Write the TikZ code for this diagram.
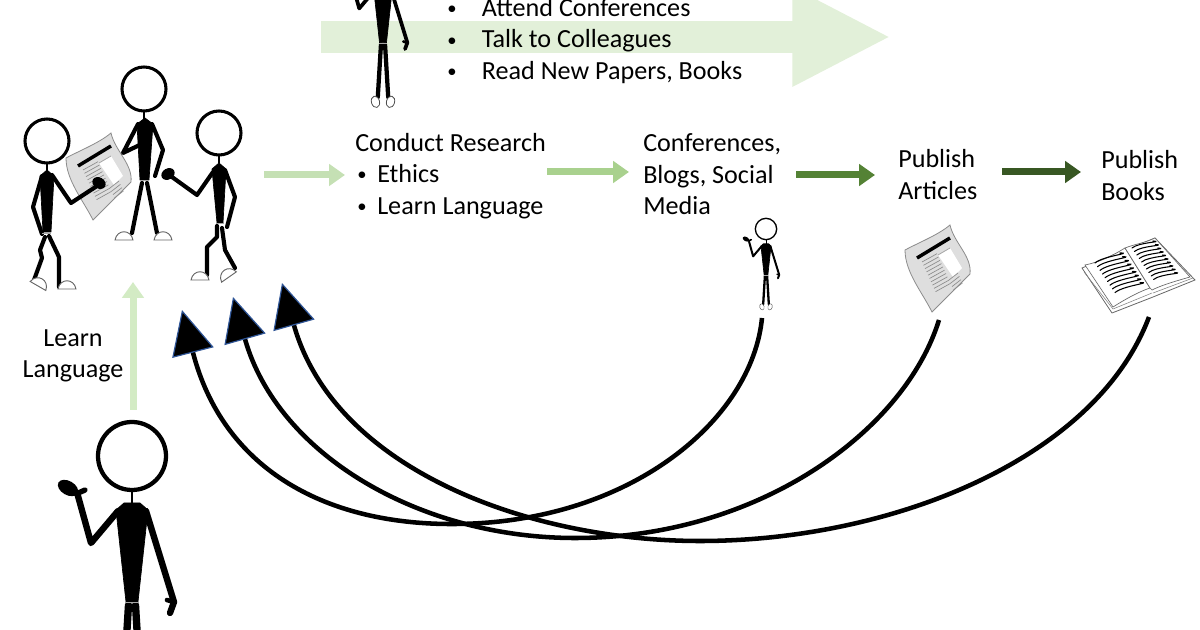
\documentclass[tikz,border=0pt]{standalone}
\usepackage{fontspec}
\setmainfont{Carlito}
\usetikzlibrary{arrows.meta}

\definecolor{flowA}{HTML}{C5E0B4}
\definecolor{flowB}{HTML}{A9D18E}
\definecolor{flowC}{HTML}{548235}
\definecolor{flowD}{HTML}{385723}
\definecolor{flowV}{HTML}{D3EBC4}
\definecolor{flowBig}{HTML}{E2F0D9}
\definecolor{tipblue}{HTML}{2F5597}

\newcommand{\dotmark}{\raisebox{1.4pt}{\fontsize{14}{14}\selectfont •}}

\tikzset{
  label/.style={font=\fontsize{19.6}{23.6}\selectfont, inner sep=0pt, align=left},
  flow/.style={line width=5.25pt, -{Triangle[length=12pt,width=16pt]}},
  loop/.style={line width=3.4pt, black, -{Triangle[length=33pt,width=32pt,fill=black,color=tipblue,line width=.9pt]}},
  head/.style={draw=black, fill=white, line width=2.3pt},
  limb/.style={draw=black, line width=3.1pt, line cap=round, line join=round},
  neck/.style={draw=black, line width=1.2pt},
  body/.style={fill=black, draw=black, line width=.5pt, line join=round},
  waist/.style={draw=black!35, line width=.7pt},
  shoe/.pic={\draw[fill=white, draw=black!60, line width=.7pt]
      (-9,0) .. controls (-7,-11) and (7,-11) .. (9,0) -- cycle;},
  paper/.pic={
    \draw[fill=black!13, draw=black!45, line width=.6pt]
      (-33,-18) .. controls (-18,-26) and (0,-33) .. (12,-43)
      .. controls (16,-25) and (34,-12) .. (32,6)
      .. controls (20,18) and (6,32) .. (-6,44)
      .. controls (-16,24) and (-33,4) .. cycle;
    \draw[line width=2.6pt, black] (-21,-10) -- (12,-30);
    \fill[white] (0,-13) -- (12,-20) -- (24,0) -- (15,9) -- cycle;
    \draw[black!35, line width=.6pt] (0,-13) -- (12,-20);
    \foreach \i in {0,...,9}
      \draw[black!45, line width=.5pt] (-16+1.5*\i,-6+3.3*\i) -- ++(15,-8.3);
    \foreach \i in {0,...,3}
      \draw[black!45, line width=.5pt] (11+1.5*\i,12+3.3*\i) -- ++(9,-7);
  }
}

% standing man with a raised hand, head centre at #1,#2
\newcommand{\wavingman}[3]{
  \begin{scope}[shift={(#1,#2)}, scale=#3]
    \draw[neck, line width=#3*1.8pt] (0,30) -- (0,50);
    \draw[head, line width=#3*3.2pt] (0,0) circle (34);
    \fill[body] (-16,54) -- (-8,47) -- (8,47) -- (16,54) -- (6,146) -- (-6,146) -- cycle;
    \draw[limb, line width=#3*4.8pt] (-14,55) -- (-41,87) -- (-54,40);
    \draw[limb, line width=#3*4pt] (-56,38) -- (-47,34);
    \fill[rotate around={-30:(-64,32)}] (-64,32) ellipse (11 and 7);
    \draw[limb, line width=#3*4.8pt] (14,55) -- (42,146) -- (38,157);
    \draw[limb, line width=#3*3.5pt] (42,146) -- (35,144);
    \draw[limb, line width=#3*5.5pt] (-3.5,149) -- (-9,240);
    \draw[limb, line width=#3*5.5pt] (3.5,149) -- (9,240);
    \draw[waist, line width=#3*1.2pt] (-7,146.5) -- (7,146.5);
    \draw[fill=white, draw=black!70, line width=#3*1pt, rotate around={15:(-13,248)}] (-13,248) ellipse (7 and 10);
    \draw[fill=white, draw=black!70, line width=#3*1pt, rotate around={-15:(13,248)}] (13,248) ellipse (7 and 10);
  \end{scope}
}

\begin{document}
\begin{tikzpicture}[x=.75pt, y=-.75pt]
  \useasboundingbox (0,0) rectangle (1200,630);
  \clip (0,0) rectangle (1200,630);

  % big arrow behind the list
  \coordinate (bigS) at (321,37);
  \coordinate (bigE) at (891,37);
  \draw[flowBig, line width=24pt, -{Triangle[length=74pt,width=69pt]}] (bigS) -- (bigE);

  \wavingman{383}{-42}{.58}
  \node[label, anchor=west] (reading) at (445,41) {%
    \makebox[27.5pt][l]{\hspace{1.5pt}\dotmark}Attend Conferences\\
    \makebox[27.5pt][l]{\hspace{1.5pt}\dotmark}Talk to Colleagues\\
    \makebox[27.5pt][l]{\hspace{1.5pt}\dotmark}Read New Papers, Books};

  % group of three
  \pic at (99,176) {paper};

  \draw[head] (47,141) circle (22);
  \draw[neck] (47,163) -- (47,172);
  \fill[body] (40,176) -- (47,170) -- (54,176) -- (51,232) -- (43,232) -- cycle;
  \draw[limb] (42,176) -- (33,207) -- (42,234);
  \draw[limb] (52,175) -- (71,203) -- (97,186);
  \fill[rotate around={-30:(99,183)}] (99,183) ellipse (7 and 5.5);
  \draw[limb] (45,237) -- (40,250) -- (42,258) -- (34,280);
  \draw[limb] (49,236) -- (59,257) -- (59,287);
  \draw[waist] (42,233) -- (51,233);
  \pic[rotate=-30] at (38,286) {shoe};
  \pic at (67,289) {shoe};

  \draw[head] (144,89) circle (22);
  \draw[neck] (144,111) -- (144,120);
  \fill[body] (137,124) -- (145,118) -- (153,124) -- (149,180) -- (140,180) -- cycle;
  \draw[limb] (138,124) -- (123,153) -- (150,140);
  \draw[limb] (152,124) -- (163,150) -- (155,176);
  \draw[limb] (142,183) -- (132,233);
  \draw[limb] (147,183) -- (157,233);
  \draw[waist] (140,180.5) -- (149,180.5);
  \pic at (124,240) {shoe};
  \pic at (163,240) {shoe};

  \draw[head] (219,133) circle (22);
  \draw[neck] (219,155) -- (219,163);
  \fill[body] (212,169) -- (219,163) -- (226,169) -- (223,223) -- (217,223) -- cycle;
  \draw[limb] (213,172) -- (197,195) -- (172,177);
  \fill[rotate around={30:(168,174)}] (168,174) ellipse (7 and 5.5);
  \draw[limb] (225,170) -- (235,197) -- (227,227);
  \draw[limb] (217,226) -- (217,237) -- (207,247) -- (207,275);
  \draw[limb] (222,228) -- (225,250) -- (235,268);
  \draw[waist] (216,223.5) -- (224,223.5);
  \pic at (200,280) {shoe};
  \pic[rotate=35] at (229,277) {shoe};

  % labels and flow arrows
  \node[label, anchor=west] (research) at (355,176) {Conduct Research\\
    \makebox[16.5pt][l]{\hspace{1.5pt}\dotmark}Ethics\\
    \makebox[16.5pt][l]{\hspace{1.5pt}\dotmark}Learn Language};
  \node[label, anchor=west] (confs) at (643,174.5) {Conferences,\\Blogs, Social\\Media};
  \node[label, anchor=west] (articles) at (898,174.5) {\hspace{0pt}Publish\\Articles};
  \node[label, anchor=west] (books) at (1101,175.5) {Publish\\Books};
  \node[label, align=center] (learn) at (73,356) {Learn\\Language};

  \coordinate (a1s) at (264,175);  \coordinate (a1e) at (345,175);
  \coordinate (a2s) at (547,172);  \coordinate (a2e) at (629,172);
  \coordinate (a3s) at (796,175);  \coordinate (a3e) at (875,175);
  \coordinate (a4s) at (1002,172); \coordinate (a4e) at (1081,172);
  \coordinate (a5s) at (133,410);  \coordinate (a5e) at (133,282);
  \draw[flow, flowA] (a1s) -- (a1e);
  \draw[flow, flowB] (a2s) -- (a2e);
  \draw[flow, flowC] (a3s) -- (a3e);
  \draw[flow, flowD] (a4s) -- (a4e);
  \draw[flow, flowV] (a5s) -- (a5e);

  % outputs
  \wavingman{766}{229}{.314}
  \pic at (938,268) {paper};

  % open book
  \draw[fill=white, draw=black!60, line width=.6pt]
    (1082,268) -- (1125,250) -- (1155,238) -- (1195,280) -- (1153,297) -- (1112,313) -- cycle;
  \draw[black!50, line width=.4pt] (1084,272) -- (1113,309) -- (1152,293);
  \draw[black!50, line width=.4pt] (1193,278) -- (1153,293);
  \draw[fill=white, draw=black!60, line width=.5pt]
    (1085,265) .. controls (1100,262) and (1112,256) .. (1125,248)
    -- (1150,288) .. controls (1138,292) and (1124,300) .. (1113,307) -- cycle;
  \draw[fill=white, draw=black!60, line width=.5pt]
    (1125,248) .. controls (1135,244) and (1145,243) .. (1155,238)
    -- (1190,277) .. controls (1176,281) and (1162,285) .. (1152,290) -- (1150,288) -- cycle;
  \foreach \i in {0,...,8}
    \draw[black, line width=.8pt, line cap=round] (1095+2.5*\i,263+3.7*\i)
      .. controls ++(8,-7) and ++(14,0) .. ++(25,-10);
  \foreach \i in {0,...,9}
    \draw[black, line width=.8pt, line cap=round] (1132+2.4*\i,248+3.5*\i)
      .. controls ++(7,-6) and ++(12,1) .. ++(21,-7);

  % loops back to the group
  \coordinate (s1) at (762,318);  \coordinate (b1) at (455,524);  \coordinate (e1) at (182,310);
  \coordinate (s2) at (939,320);  \coordinate (b2) at (575,538);  \coordinate (e2) at (233,297);
  \coordinate (s3) at (1149,317); \coordinate (b3) at (700,541);  \coordinate (e3) at (282,283);
  \draw[loop] (s1) .. controls (752,420) and (630,523) .. (b1)
    .. controls (320,525) and (222,465) .. (e1);
  \draw[loop] (s2) .. controls (905,430) and (760,538) .. (b2)
    .. controls (420,538) and (278,455) .. (e2);
  \draw[loop] (s3) .. controls (1095,460) and (890,541) .. (b3)
    .. controls (530,541) and (335,470) .. (e3);

  % man in front
  \wavingman{132}{456}{1}
\end{tikzpicture}
\end{document}
